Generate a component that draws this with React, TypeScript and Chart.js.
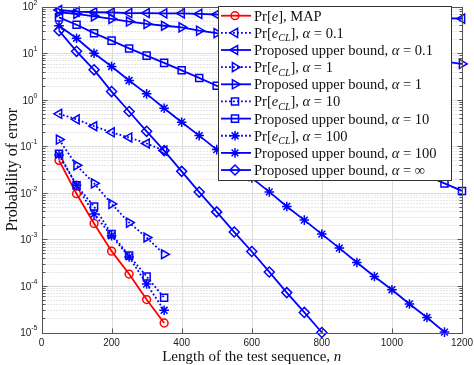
import { useEffect, useRef } from 'react';
import { Chart, registerables } from 'chart.js';
import { drawPoint } from 'chart.js/helpers';

Chart.register(...registerables);

// ---------- data ----------
const nShort = [50, 100, 150, 200, 250, 300, 350];
const nFull = [50, 100, 150, 200, 250, 300, 350, 400, 450, 500, 550, 600, 650, 700, 750, 800, 850, 900, 950, 1000, 1050, 1100, 1150, 1200];
const n100 = [50, 100, 150, 200, 250, 300, 350, 400, 450, 500, 550, 600, 650, 700, 750, 800, 850, 900, 950, 1000, 1050, 1100, 1150];
const nInf = [50, 100, 150, 200, 250, 300, 350, 400, 450, 500, 550, 600, 650, 700, 750, 800];

const prMap = [0.05, 0.0096, 0.0022, 5.6e-4, 1.8e-4, 5.1e-5, 1.6e-5];
const prCl01 = [0.5, 0.38, 0.27, 0.2, 0.155, 0.115, 0.081];
const bound01 = [85, 78, 76, 75, 73, 73, 72, 72, 70, 68, 67, 66.5, 65.5, 65, 64, 63, 62.5, 61.5, 60.5, 59.5, 58.5, 57.5, 56.5, 55.5];
const prCl1 = [0.14, 0.039, 0.016, 0.0058, 0.0023, 0.0011, 4.8e-4];
const bound1 = [76, 70, 62, 54.5, 48, 42.6, 39, 36, 30.5, 27, 24.4, 21.9, 19.6, 17.6, 15.8, 14.2, 12.7, 11.4, 10.2, 9.2, 8.2, 7.4, 6.6, 5.9];
const prCl10 = [0.069, 0.0145, 0.0051, 0.0013, 4.5e-4, 1.6e-4, 5.6e-5];
const bound10 = [59, 41, 27, 18.7, 12.7, 8.9, 6.2, 4.3, 2.95, 2.0, 1.38, 0.95, 0.66, 0.455, 0.31, 0.215, 0.148, 0.102, 0.07, 0.049, 0.034, 0.0235, 0.016, 0.011];
const prCl100 = [0.065, 0.0145, 0.0035, 0.0012, 4.2e-4, 1.1e-4, 3.0e-5];
const bound100 = [39, 21, 10, 5.2, 2.6, 1.34, 0.66, 0.33, 0.17, 0.085, 0.043, 0.021, 0.0105, 0.0051, 0.0026, 0.0013, 6.5e-4, 3.2e-4, 1.6e-4, 8.3e-5, 4.1e-5, 2.1e-5, 1.02e-5];
const boundInf = [30.5, 11, 4.4, 1.5, 0.56, 0.21, 0.081, 0.029, 0.0104, 0.0039, 0.00144, 5.5e-4, 2.0e-4, 7.2e-5, 2.7e-5, 1.0e-5];

const xTicks = [0, 200, 400, 600, 800, 1000, 1200];
const yExps = [-5, -4, -3, -2, -1, 0, 1, 2];
const alphaLabels = ['0.1', '1', '10', '100', '\u221E'];
const xTitle = 'Length of the test sequence, ';
const xTitleVar = 'n';
const yTitle = 'Probability of error';

// ---------- styles ----------
const RED = '#ff0000';
const BLUE = '#0000ff';
const DOT = [1.8, 2.2];
const LW = 1.8;
const PW = 1.5;
const SERIF = '"Liberation Serif", "Times New Roman", serif';
const SANS = '"Liberation Sans", Arial, sans-serif';

type Seg = { t: string; i?: boolean; s?: boolean };
const prLabel = (a: string): Seg[] => [
  { t: 'Pr[' }, { t: 'e', i: true }, { t: 'CL', i: true, s: true }, { t: '], ' }, { t: '\u03B1', i: true }, { t: ' = ' + a },
];
const boundLabel = (a: string): Seg[] => [
  { t: 'Proposed upper bound, ' }, { t: '\u03B1', i: true }, { t: ' = ' + a },
];

const series = [
  { label: [{ t: 'Pr[' }, { t: 'e', i: true }, { t: '], MAP' }] as Seg[], xs: nShort, ys: prMap, color: RED, dash: [] as number[], style: 'circle', rot: 0, r: 3.9 },
  { label: prLabel(alphaLabels[0]), xs: nShort, ys: prCl01, color: BLUE, dash: DOT, style: 'triangle', rot: -90, r: 5.2 },
  { label: boundLabel(alphaLabels[0]), xs: nFull, ys: bound01, color: BLUE, dash: [], style: 'triangle', rot: -90, r: 5.2 },
  { label: prLabel(alphaLabels[1]), xs: nShort, ys: prCl1, color: BLUE, dash: DOT, style: 'triangle', rot: 90, r: 5.2 },
  { label: boundLabel(alphaLabels[1]), xs: nFull, ys: bound1, color: BLUE, dash: [], style: 'triangle', rot: 90, r: 5.2 },
  { label: prLabel(alphaLabels[2]), xs: nShort, ys: prCl10, color: BLUE, dash: DOT, style: 'rect', rot: 0, r: 5 },
  { label: boundLabel(alphaLabels[2]), xs: nFull, ys: bound10, color: BLUE, dash: [], style: 'rect', rot: 0, r: 5 },
  { label: prLabel(alphaLabels[3]), xs: nShort, ys: prCl100, color: BLUE, dash: DOT, style: 'star', rot: 0, r: 4.8 },
  { label: boundLabel(alphaLabels[3]), xs: n100, ys: bound100, color: BLUE, dash: [], style: 'star', rot: 0, r: 4.8 },
  { label: boundLabel(alphaLabels[4]), xs: nInf, ys: boundInf, color: BLUE, dash: [], style: 'rectRot', rot: 0, r: 5 },
];

function segFont(seg: Seg, size: number) {
  const sz = seg.s ? size * 0.7 : size;
  return `${seg.i ? 'italic ' : ''}${sz}px ${SERIF}`;
}
function richWidth(ctx: CanvasRenderingContext2D, segs: Seg[], size: number) {
  let w = 0;
  for (const s of segs) { ctx.font = segFont(s, size); w += ctx.measureText(s.t).width; }
  return w;
}
function drawRich(ctx: CanvasRenderingContext2D, segs: Seg[], x: number, y: number, size: number, align: 'left' | 'center') {
  let cx = align === 'center' ? x - richWidth(ctx, segs, size) / 2 : x;
  ctx.textAlign = 'left';
  ctx.textBaseline = 'alphabetic';
  for (const s of segs) {
    ctx.font = segFont(s, size);
    ctx.fillText(s.t, cx, y + (s.s ? size * 0.25 : 0));
    cx += ctx.measureText(s.t).width;
  }
}

const decorPlugin = {
  id: 'decor',
  beforeDatasetsDraw(chart: any) {
    const ctx: CanvasRenderingContext2D = chart.ctx;
    const { left, right, top, bottom } = chart.chartArea;
    const xs = chart.scales.x, ys = chart.scales.y;
    ctx.save();
    ctx.lineWidth = 1;
    // minor y grid
    ctx.strokeStyle = 'rgba(0,0,0,0.2)';
    ctx.setLineDash([1, 2]);
    for (let e = -5; e < 2; e++) {
      for (let k = 2; k <= 9; k++) {
        const y = Math.round(ys.getPixelForValue(k * Math.pow(10, e))) + 0.5;
        ctx.beginPath(); ctx.moveTo(left, y); ctx.lineTo(right, y); ctx.stroke();
      }
    }
    ctx.setLineDash([]);
    ctx.strokeStyle = '#dcdcdc';
    for (const e of yExps) {
      const y = Math.round(ys.getPixelForValue(Math.pow(10, e))) + 0.5;
      ctx.beginPath(); ctx.moveTo(left, y); ctx.lineTo(right, y); ctx.stroke();
    }
    for (const v of xTicks) {
      const x = Math.round(xs.getPixelForValue(v)) + 0.5;
      ctx.beginPath(); ctx.moveTo(x, top); ctx.lineTo(x, bottom); ctx.stroke();
    }
    ctx.restore();
  },
  afterDatasetsDraw(chart: any) {
    const ctx: CanvasRenderingContext2D = chart.ctx;
    const { left, right, top, bottom } = chart.chartArea;
    const xs = chart.scales.x, ys = chart.scales.y;
    ctx.save();
    // box
    ctx.strokeStyle = '#555';
    ctx.lineWidth = 1;
    ctx.setLineDash([]);
    const L = Math.round(left) + 0.5, R = Math.round(right) + 0.5, T = Math.round(top) + 0.5, B = Math.round(bottom) + 0.5;
    ctx.strokeRect(L, T, R - L, B - T);
    // y ticks
    for (let e = -5; e <= 2; e++) {
      for (let k = 1; k <= 9; k++) {
        if (e === 2 && k > 1) break;
        const y = Math.round(ys.getPixelForValue(k * Math.pow(10, e))) + 0.5;
        const len = k === 1 ? 5 : 3;
        ctx.beginPath();
        ctx.moveTo(L, y); ctx.lineTo(L + len, y);
        ctx.moveTo(R, y); ctx.lineTo(R - len, y);
        ctx.stroke();
      }
    }
    // x ticks
    for (const v of xTicks) {
      const x = Math.round(xs.getPixelForValue(v)) + 0.5;
      ctx.beginPath();
      ctx.moveTo(x, B); ctx.lineTo(x, B - 5);
      ctx.moveTo(x, T); ctx.lineTo(x, T + 5);
      ctx.stroke();
    }
    // tick labels
    ctx.fillStyle = '#222';
    ctx.textBaseline = 'middle';
    ctx.textAlign = 'center';
    ctx.font = `10px ${SANS}`;
    for (const v of xTicks) {
      ctx.fillText(String(v), xs.getPixelForValue(v), bottom + 11);
    }
    for (const e of yExps) {
      const y = ys.getPixelForValue(Math.pow(10, e));
      const ex = e < 0 ? '-' + Math.abs(e) : String(e);
      ctx.font = `7px ${SANS}`;
      const we = ctx.measureText(ex).width;
      ctx.font = `10px ${SANS}`;
      const wb = ctx.measureText('10').width;
      const xr = left - 4;
      ctx.textAlign = 'left';
      ctx.fillText('10', xr - we - wb, y + 1);
      ctx.font = `7px ${SANS}`;
      ctx.fillText(ex, xr - we, y - 4);
    }
    // axis titles
    ctx.fillStyle = '#111';
    drawRich(ctx, [{ t: xTitle }, { t: xTitleVar, i: true }], (left + right) / 2, 361, 15, 'center');
    ctx.save();
    ctx.translate(17, (top + bottom) / 2);
    ctx.rotate(-Math.PI / 2);
    drawRich(ctx, [{ t: yTitle }], 0, 0, 16, 'center');
    ctx.restore();
    // legend
    const bx = 218.5, by = 6.5, bw = 233, bh = 174;
    ctx.fillStyle = '#fff';
    ctx.fillRect(bx, by, bw, bh);
    ctx.strokeStyle = '#333';
    ctx.lineWidth = 1;
    ctx.strokeRect(bx, by, bw, bh);
    series.forEach((s, i) => {
      const y = 15.7 + i * 17.15;
      ctx.strokeStyle = s.color;
      ctx.lineWidth = LW;
      ctx.setLineDash(s.dash);
      ctx.beginPath(); ctx.moveTo(221, y); ctx.lineTo(251, y); ctx.stroke();
      ctx.setLineDash([]);
      ctx.lineWidth = PW;
      ctx.fillStyle = 'rgba(0,0,0,0)';
      drawPoint(ctx, { pointStyle: s.style, rotation: s.rot, radius: s.r, borderWidth: PW } as any, 235, y);
      ctx.fillStyle = '#111';
      drawRich(ctx, s.label, 254, y + 5, 14.5, 'left');
    });
    ctx.restore();
  },
};

export default function App() {
  const ref = useRef<HTMLCanvasElement | null>(null);
  useEffect(() => {
    document.body.style.margin = '0';
    const canvas = ref.current!;
    const chart = new Chart(canvas, {
      type: 'line',
      data: {
        datasets: series.map((s, i) => ({
          label: s.label.map((g) => g.t).join(''),
          data: s.xs.map((x, j) => ({ x, y: s.ys[j] })),
          borderColor: s.color,
          borderWidth: LW,
          borderDash: s.dash,
          pointStyle: s.style as any,
          pointRotation: s.rot,
          pointRadius: s.r,
          pointBorderWidth: PW,
          pointBorderColor: s.color,
          pointBackgroundColor: 'rgba(0,0,0,0)',
          fill: false,
          tension: 0,
          clip: false as any,
          order: -i,
        })),
      },
      options: {
        animation: false,
        responsive: false,
        layout: { padding: { left: 0, right: 12, top: 6, bottom: 0 } },
        plugins: { legend: { display: false }, tooltip: { enabled: false } },
        events: [],
        scales: {
          x: {
            type: 'linear', min: 0, max: 1200,
            grid: { display: false }, border: { display: false },
            ticks: { display: false },
            afterFit: (s: any) => { s.height = 32.5; },
          },
          y: {
            type: 'logarithmic', min: 1e-5, max: 100,
            grid: { display: false }, border: { display: false },
            ticks: { display: false },
            afterFit: (s: any) => { s.width = 41.5; },
          },
        },
      },
      plugins: [decorPlugin],
    });
    return () => chart.destroy();
  }, []);
  return (
    <div style={{ width: 474, height: 365, background: '#fff' }}>
      <canvas ref={ref} width={474} height={365} style={{ display: 'block' }} />
    </div>
  );
}
